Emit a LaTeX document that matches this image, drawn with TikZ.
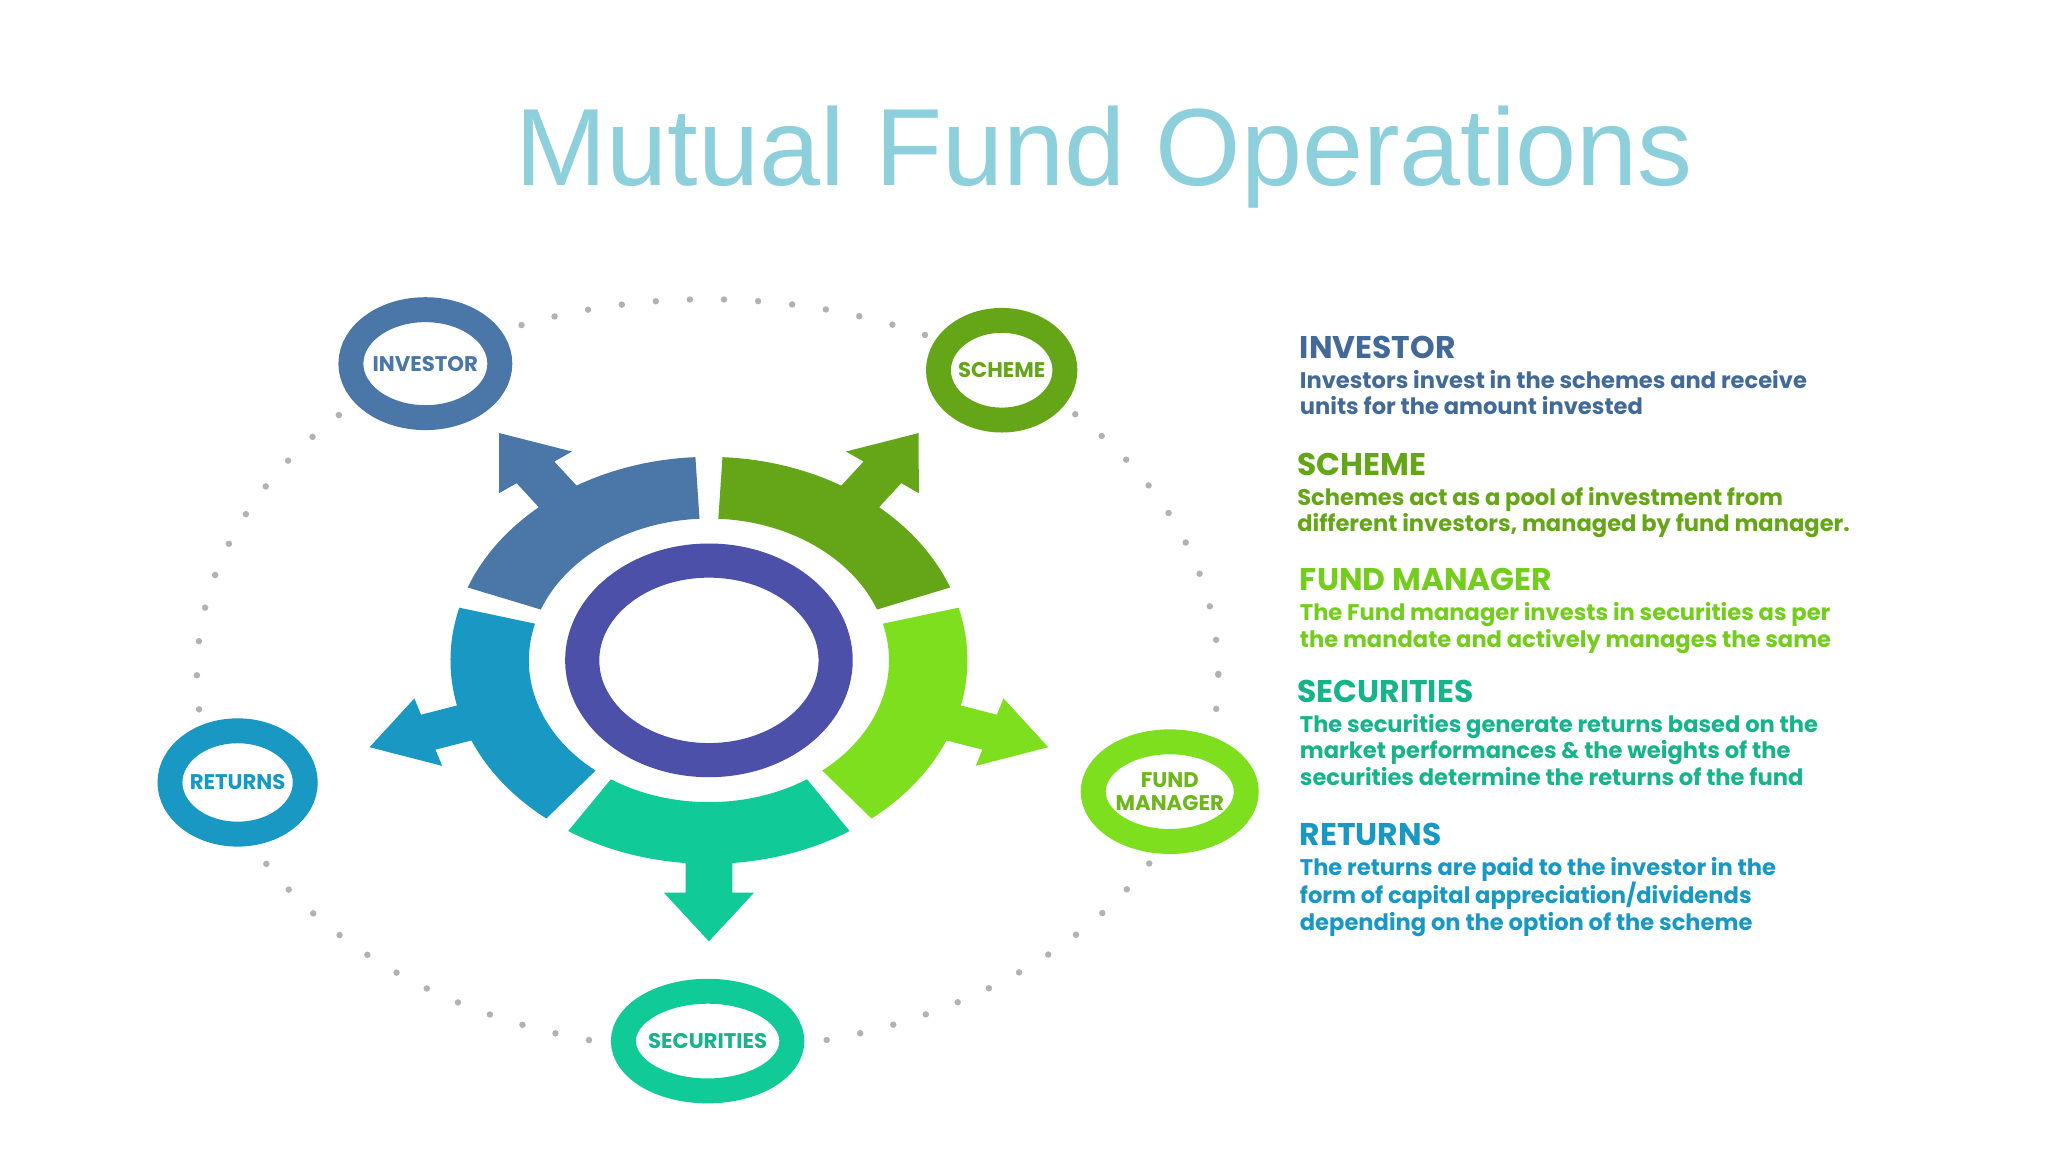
\documentclass[tikz,border=0pt]{standalone}
\usepackage{fontspec}
\setmainfont{Liberation Sans}
\newfontfamily\pop{Poppins}
\usetikzlibrary{shapes.geometric}
\definecolor{cInv}{HTML}{4A76A8}
\definecolor{cSch}{HTML}{65A618}
\definecolor{cFM}{HTML}{7EDF1E}
\definecolor{cSec}{HTML}{10CB97}
\definecolor{cRet}{HTML}{1898C2}
\definecolor{cRing}{HTML}{4C50A8}
\definecolor{cTitle}{HTML}{8ECFDC}
\definecolor{cSecT}{HTML}{17B48C}
\tikzset{
 outring/.style={ellipse,draw,fill=white,line width=27pt,inner sep=0pt,font=\pop\bfseries\fontsize{23}{25}\selectfont,align=center},
 head/.style={anchor=north west,inner sep=0pt,font=\pop\bfseries\fontsize{34}{36}\selectfont},
 body/.style={anchor=north west,inner sep=0pt,align=left,font=\pop\bfseries\fontsize{24.5}{28.5}\selectfont},
}
\newcommand{\seg}[3]{\fill[#3] (#1+3:108) arc (#1+3:#2-3:108) -- (#2-3:155) arc (#2-3:#1+3:155) -- cycle;
 \begin{scope}[rotate={-(#1+#2)/2}]\fill[#3] (150,-14)--(177,-14)--(177,-27)--(214,0)--(177,27)--(177,14)--(150,14)--cycle;\end{scope}}
\begin{document}
\begin{tikzpicture}[x=0.05cm,y=-0.05cm]
\useasboundingbox[fill=white] (0,0) rectangle (1560,877.5);
\node[font=\fontsize{119}{121}\selectfont,text=cTitle] (title) at (841,120) {Mutual Fund Operations};
% dotted orbit
\draw[gray!60,line width=7pt,line cap=round,dash pattern=on 0pt off 37pt] (539,514) ellipse [x radius=389,y radius=286];
\begin{scope}[shift={(540,503)},xscale=1.27,yscale=-1]
\seg{90}{162}{cInv}
\seg{162}{234}{cRet}
\seg{234}{306}{cSec}
\seg{306}{378}{cFM}
\seg{18}{90}{cSch}
\draw[cRing,line width=37pt] (0,0) circle (76);
\end{scope}
\node[outring,draw=cInv,text=cInv,minimum width=150,minimum height=117] (inv) at (324,277) {INVESTOR};
\node[outring,draw=cSch,text=cSch,minimum width=137,minimum height=108] (sch) at (763,282) {SCHEME};
\node[outring,draw=cFM,text=cSch!70!cFM,minimum width=137,minimum height=108] (fm) at (891,603) {FUND\\MANAGER};
\node[outring,draw=cSec,text=cSecT,minimum width=137,minimum height=108] (sec) at (539,793) {SECURITIES};
\node[outring,draw=cRet,text=cRet,minimum width=146,minimum height=112] (ret) at (181,596) {RETURNS};
% right text
\node[head,text=cInv!90!black] (h1) at (990,256) {INVESTOR};
\node[body,text=cInv!90!black] (b1) at (990,282) {Investors invest in the schemes and receive\\units for the amount invested};
\node[head,text=cSch] (h2) at (988,345) {SCHEME};
\node[body,text=cSch] (b2) at (988,371) {Schemes act as a pool of investment from\\different investors, managed by fund manager.};
\node[head,text=cFM!92!black] (h3) at (990,433) {FUND MANAGER};
\node[body,text=cFM!92!black] (b3) at (990,459) {The Fund manager invests in securities as per\\the mandate and actively manages the same};
\node[head,text=cSecT] (h4) at (988,518) {SECURITIES};
\node[body,text=cSecT] (b4) at (990,544) {The securities generate returns based on the\\market performances \& the weights of the\\securities determine the returns of the fund};
\node[head,text=cRet] (h5) at (990,627) {RETURNS};
\node[body,text=cRet] (b5) at (990,653) {The returns are paid to the investor in the\\form of capital appreciation/dividends\\depending on the option of the scheme};
\end{tikzpicture}
\end{document}
